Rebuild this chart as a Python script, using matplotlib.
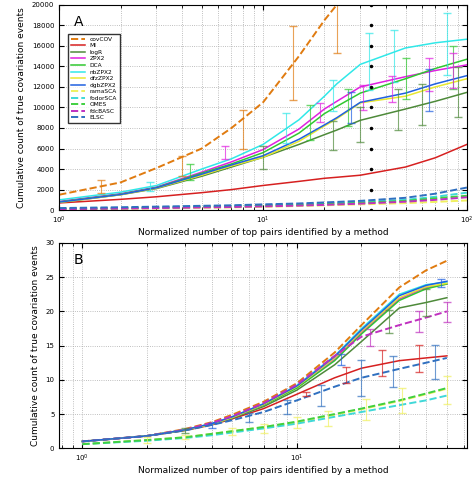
import numpy as np
import matplotlib
matplotlib.use("Agg")
import matplotlib.pyplot as plt

names = ["covCOV", "MI", "logR", "ZPX2", "DCA", "nbZPX2", "dfzZPX2", "dgbZPX2",
         "ramaSCA", "fodorSCA", "OMES", "fdcBASC", "ELSC"]
colors = ["#e07b10", "#d62020", "#4e8a3a", "#e020e0", "#30c830", "#30e8e8", "#e8e830",
          "#2060e0", "#f0f060", "#40d8d8", "#40d040", "#c030c0", "#3070c0"]
dashed = [True, False, False, False, False, False, False, False, True, True, True, True, True]

# panel A
xa = [1, 2, 3, 5, 7, 10, 15, 20, 23, 30, 50, 70, 100]
ya = {
    "covCOV":  [1500, 2700, 4100, 6000, 8000, 10500, 15000, 18500, 20000, 24000, None, None, None],
    "MI":      [700, 1050, 1300, 1700, 2000, 2400, 2800, 3100, 3200, 3400, 4200, 5100, 6400],
    "logR":    [750, 1500, 2100, 3300, 4200, 5150, 6400, 7350, 7800, 8750, 9850, 10600, 11470],
    "ZPX2":    [850, 1600, 2250, 3700, 4700, 5900, 7900, 9850, 10600, 12000, 13000, 13600, 14150],
    "DCA":     [800, 1550, 2200, 3600, 4500, 5600, 7500, 9400, 10100, 11400, 12800, 13800, 14700],
    "nbZPX2":  [1000, 1750, 2400, 4000, 5000, 6400, 8800, 11100, 12300, 14200, 15800, 16300, 16650],
    "dfzZPX2": [750, 1500, 2150, 3400, 4300, 5150, 6700, 8200, 8900, 10450, 11100, 12000, 12800],
    "dgbZPX2": [780, 1520, 2180, 3500, 4400, 5300, 6900, 8300, 9000, 10500, 11400, 12300, 13100],
    "ramaSCA": [80, 120, 160, 220, 260, 320, 400, 460, 500, 560, 680, 800, 940],
    "fodorSCA":[150, 220, 270, 350, 400, 470, 560, 650, 700, 780, 1000, 1300, 1700],
    "OMES":    [120, 180, 230, 300, 350, 420, 500, 580, 620, 700, 900, 1150, 1400],
    "fdcBASC": [100, 150, 200, 260, 300, 360, 440, 510, 550, 630, 820, 1000, 1250],
    "ELSC":    [200, 280, 340, 420, 470, 560, 650, 750, 800, 900, 1200, 1600, 2200],
}

# panel B
xb = [1, 2, 3, 4, 5, 7, 10, 15, 20, 30, 40, 50]
yb = {
    "covCOV":  [1, 1.8, 2.8, 3.8, 4.9, 6.8, 9.5, 14.0, 18.0, 23.5, 26.0, 27.4],
    "MI":      [1, 1.8, 2.6, 3.4, 4.3, 5.8, 7.9, 10.3, 11.7, 12.8, 13.2, 13.5],
    "logR":    [1, 1.8, 2.6, 3.5, 4.4, 6.1, 8.5, 12.2, 15.6, 20.5, 21.3, 22.0],
    "ZPX2":    [1, 1.8, 2.7, 3.5, 4.5, 6.3, 8.9, 13.0, 16.9, 21.8, 23.5, 24.0],
    "DCA":     [1, 1.8, 2.7, 3.5, 4.5, 6.3, 8.8, 12.8, 16.7, 21.6, 23.3, 24.0],
    "nbZPX2":  [1, 1.8, 2.7, 3.6, 4.6, 6.5, 9.2, 13.5, 17.5, 22.5, 23.9, 24.3],
    "dfzZPX2": [1, 1.8, 2.7, 3.5, 4.5, 6.4, 9.0, 13.2, 17.1, 22.0, 23.6, 24.1],
    "dgbZPX2": [1, 1.8, 2.7, 3.6, 4.6, 6.5, 9.1, 13.4, 17.3, 22.3, 23.8, 24.4],
    "ramaSCA": [0.6, 1.2, 1.6, 2.1, 2.5, 3.1, 3.8, 4.9, 5.7, 6.9, 7.9, 8.7],
    "fodorSCA":[0.6, 1.1, 1.5, 1.9, 2.3, 2.9, 3.6, 4.6, 5.3, 6.3, 7.0, 7.7],
    "OMES":    [0.6, 1.2, 1.6, 2.1, 2.5, 3.1, 3.9, 5.0, 5.8, 7.0, 8.0, 8.8],
    "fdcBASC": [1, 1.8, 2.7, 3.7, 4.7, 6.6, 9.3, 13.5, 16.3, 18.0, 19.1, 20.0],
    "ELSC":    [1, 1.8, 2.6, 3.4, 4.1, 5.3, 7.0, 9.0, 10.3, 11.6, 12.5, 13.2],
}

# error bars: (method, x, y, half-width)
err_a = [("covCOV", 1.6, 2300, 600), ("covCOV", 4.0, 4300, 1000), ("covCOV", 8.0, 7900, 1900),
         ("covCOV", 14, 14300, 3600), ("covCOV", 23, 19500, 4200),
         ("nbZPX2", 2.8, 2300, 450), ("nbZPX2", 13, 8000, 1500), ("nbZPX2", 22, 11200, 1500),
         ("nbZPX2", 33, 14500, 2800), ("nbZPX2", 44, 15000, 2500), ("nbZPX2", 80, 16200, 3000),
         ("DCA", 4.4, 3700, 800), ("DCA", 17, 8500, 1700), ("DCA", 26, 10000, 1800),
         ("DCA", 50, 12800, 2000), ("DCA", 85, 13900, 2100),
         ("ZPX2", 6.5, 5600, 600), ("ZPX2", 19, 9500, 900), ("ZPX2", 31, 11000, 1200),
         ("ZPX2", 43, 11800, 1300), ("ZPX2", 65, 13200, 1600), ("ZPX2", 85, 13600, 1700),
         ("logR", 10, 5100, 1100), ("logR", 22, 7300, 1400), ("logR", 30, 8300, 1700),
         ("logR", 46, 9800, 2000), ("logR", 60, 10300, 2000), ("logR", 90, 11500, 2400),
         ("dgbZPX2", 27, 10000, 1500), ("dgbZPX2", 65, 11700, 2000)]
err_b = [("ELSC", 6, 4.5, 0.6), ("ELSC", 9, 6.0, 1.0), ("ELSC", 13, 7.7, 1.5),
         ("ELSC", 20, 10.3, 2.6), ("ELSC", 28, 11.2, 2.3), ("ELSC", 44, 12.6, 2.5),
         ("MI", 11, 7.9, 0.3), ("MI", 17, 10.7, 1.2), ("MI", 25, 12.4, 1.9), ("MI", 37, 13.1, 2.0),
         ("ramaSCA", 2, 1.2, 0.4), ("ramaSCA", 3, 1.6, 0.3), ("ramaSCA", 5, 2.5, 0.5),
         ("ramaSCA", 7, 2.9, 0.7), ("ramaSCA", 10, 3.7, 0.8), ("ramaSCA", 14, 4.4, 1.1),
         ("ramaSCA", 21, 5.7, 1.5), ("ramaSCA", 31, 7.0, 1.8), ("ramaSCA", 50, 8.5, 2.0),
         ("fdcBASC", 22, 16.2, 1.2), ("fdcBASC", 37, 18.5, 1.5), ("fdcBASC", 50, 19.9, 1.5),
         ("logR", 27, 18.5, 1.7), ("logR", 40, 21.3, 2.0), ("dgbZPX2", 16, 13, 0.8),
         ("dgbZPX2", 47, 24.2, 0.6), ("logR", 3, 2.6, 0.3), ("dgbZPX2", 4, 3.3, 0.4)]

fig, (axA, axB) = plt.subplots(2, 1, figsize=(4.74, 4.82), dpi=100)
plt.subplots_adjust(left=0.125, right=0.985, top=0.99, bottom=0.07, hspace=0.16)

for ax, xs, ys, errs in [(axA, xa, ya, err_a), (axB, xb, yb, err_b)]:
    for n, c, d in zip(names, colors, dashed):
        pts = [(x, y) for x, y in zip(xs, ys[n]) if y is not None]
        ax.plot([p[0] for p in pts], [p[1] for p in pts], color=c,
                ls="--" if d else "-", lw=1.4 if d else 1.1, label=n)
    for n, x, y, e in errs:
        ax.errorbar([x], [y], yerr=[e], color=colors[names.index(n)], lw=0.8,
                    capsize=3, alpha=0.7, fmt="none")
    ax.set_xscale("log")
    ax.grid(True, which="both", ls=":", color="#aaaaaa", lw=0.6)
    ax.tick_params(labelsize=5, direction="in", which="both", top=True, right=True)
    ax.set_ylabel("Cumulative count of true covariation events", fontsize=6.5)
    ax.set_xlabel("Normalized number of top pairs identified by a method", fontsize=6.5, labelpad=1)

axA.set_xlim(1, 100)
axA.set_ylim(0, 20000)
axA.set_yticks(range(0, 20001, 2000))
axA.plot([34] * 11, np.linspace(0, 20000, 11), "k.", ms=3)
axA.text(0.035, 0.95, "A", transform=axA.transAxes, fontsize=10, va="top")
leg = axA.legend(loc="upper left", bbox_to_anchor=(0.015, 0.87), fontsize=4.2,
                 frameon=True, fancybox=False, edgecolor="k", handlelength=2.5,
                 labelspacing=0.25, borderpad=0.4)

axB.set_xlim(0.78, 62)
axB.set_ylim(0, 30)
axB.text(0.035, 0.95, "B", transform=axB.transAxes, fontsize=10, va="top")

plt.savefig("out.png", dpi=100)
